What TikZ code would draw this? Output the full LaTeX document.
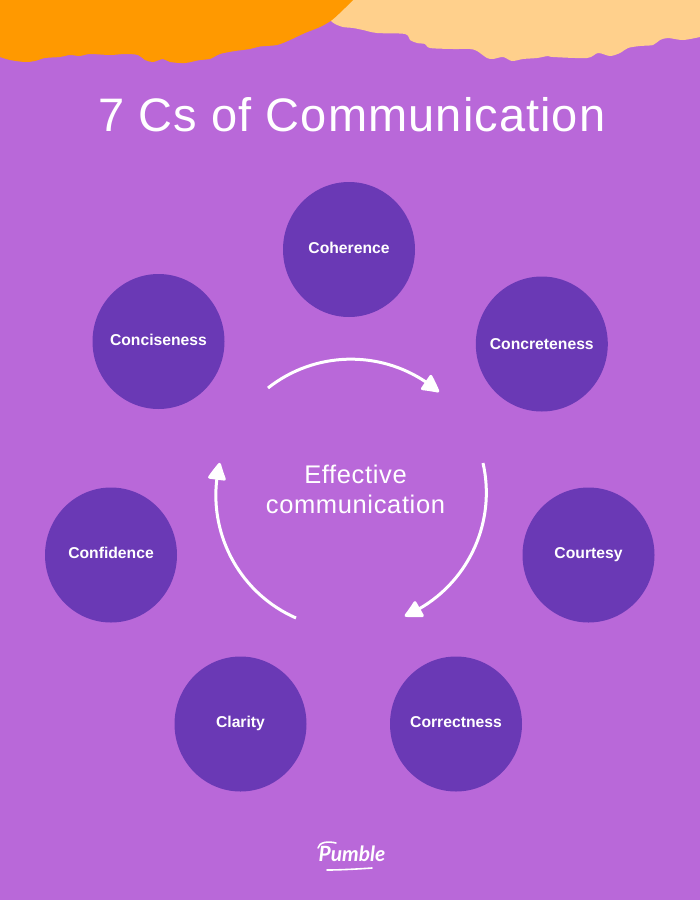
\documentclass[tikz,border=0pt]{standalone}
\usepackage{fontspec}
\setmainfont{Liberation Sans}
\newfontfamily\logofont{Lato}
\usetikzlibrary{arrows.meta,bending,shapes.geometric}
\definecolor{bgpurple}{RGB}{185,104,217}
\definecolor{deeppurple}{RGB}{106,57,181}
\definecolor{brushorange}{RGB}{255,153,0}
\definecolor{brushtan}{RGB}{255,208,140}
\tikzset{
  cnode/.style={ellipse,fill=deeppurple,draw=none,minimum width=132pt,minimum height=135pt,inner xsep=-25pt,inner ysep=0pt,text=white,text height=11pt,text depth=4pt,font=\fontsize{15.7}{19}\selectfont\bfseries},
  lowlabel/.style={text height=13pt,text depth=2pt},
  cycle arrow/.style={draw=white,line width=3pt,-{Triangle[length=19pt,width=19pt,round,bend]}},
}
\begin{document}
\begin{tikzpicture}[x=1pt,y=-1pt]
\useasboundingbox (0,0) rectangle (700,900);
\fill[bgpurple] (0,0) rectangle (700,900);
% tan brush stroke
\fill[brushtan] (325,0) -- (325,15) -- plot[smooth,tension=0.5] coordinates {(331,21) (335,24) (343,27) (353,28) (363,30) (377,33) (405,34) (410,40) (417,43) (425,44) (430,48) (453,49) (470,49) (477,51) (487,58) (493,59) (503,57) (512,61) (523,59) (537,58) (548,56) (553,57) (587,58) (598,53) (610,56) (620,53) (628,48) (640,46) (653,45) (660,40) (668,38) (683,40) (700,37)} -- (700,0) -- cycle;
% orange brush stroke
\fill[brushorange] (0,0) -- plot[smooth,tension=0.5] coordinates {(0,57) (10,60) (25,62) (35,61) (45,58) (60,57) (70,55) (80,56) (90,54) (110,55) (125,54) (138,55) (145,60) (153,62) (163,59) (170,62) (185,63) (200,60) (210,59) (220,54) (235,51) (250,49) (260,46.5) (277,45) (290,40) (305,33) (320,27) (332,20) (345,8) (353,0)} -- cycle;
% title
\node[text=white,inner sep=0pt,font=\fontsize{47}{54}\selectfont\addfontfeature{LetterSpace=2.3}] (title) at (352,115) {7 Cs of Communication};
% circles
\node[cnode] (coherence) at (349,249.5) {Coherence};
\node[cnode,lowlabel] (concreteness) at (541.8,344) {Concreteness};
\node[cnode] (courtesy) at (588.5,555) {Courtesy};
\node[cnode] (correctness) at (456,724) {Correctness};
\node[cnode] (clarity) at (240.5,724) {Clarity};
\node[cnode] (confidence) at (111,555) {Confidence};
\node[cnode] (conciseness) at (158.5,341.5) {Conciseness};
% centre
\node[text=white,align=center,inner sep=0pt,font=\fontsize{25.5}{30}\selectfont\addfontfeature{LetterSpace=2.5}] (centre) at (355.5,489) {Effective\\communication};
% arcs
\coordinate (topstart) at (268,388);
\coordinate (rightstart) at (483,463);
\coordinate (leftstart) at (296,618);
\draw[cycle arrow] (topstart) arc[start angle=231.7,end angle=311,radius=134];
\draw[cycle arrow] (rightstart) arc[start angle=-12.8,end angle=67,radius=134];
\draw[cycle arrow] (leftstart) arc[start angle=113.7,end angle=194,radius=134];
% logo
\node[text=white,inner sep=0pt,font=\logofont\fontsize{21}{26}\selectfont\bfseries\itshape] (logo) at (352,854) {Pumble};
\coordinate (swooshstart) at (327,870);
\coordinate (swooshend) at (372,868);
\coordinate (flourishstart) at (318,848);
\coordinate (flourishend) at (336,843);
\draw[white,line width=1.6pt,line cap=round] (swooshstart) .. controls (340,870) and (358,869) .. (swooshend);
\draw[white,line width=1.6pt,line cap=round] (flourishstart) .. controls (319,842) and (328,841) .. (flourishend);
\end{tikzpicture}
\end{document}
